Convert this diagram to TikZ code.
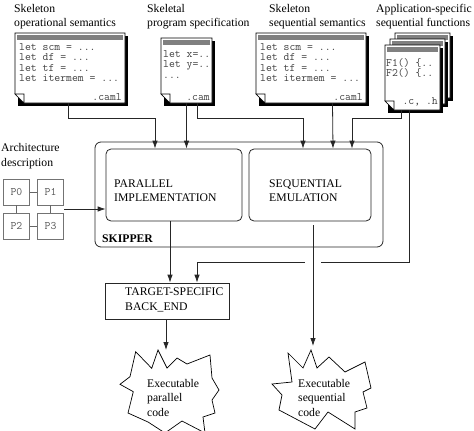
\documentclass[tikz,border=0pt]{standalone}
\usepackage{fontspec}
\setmainfont{Liberation Serif}
\usetikzlibrary{arrows.meta}
\tikzset{>={Latex[length=8pt,width=5.5pt]}}
\tikzset{
    conn/.style={->,line width=0.8pt,draw=black!85},
    blockbox/.style={draw=black!85,line width=0.8pt,rounded corners=5pt,inner sep=0pt},
    caption/.style={align=left,inner sep=0pt,font=\fontsize{11.7}{14.5}\selectfont},
    codetext/.style={align=left,inner sep=0pt,text=black!75,font=\ttfamily\fontsize{11.4}{10.6}\selectfont},
    procbox/.style={draw=black!55,line width=0.7pt,minimum size=26pt,inner sep=0pt,text=black!65,font=\ttfamily\fontsize{11.4}{12}\selectfont},
    cloudline/.style={draw=black,line width=0.7pt,fill=white}
}
% source file icon: name, left, top, right, bottom
\newcommand{\docpage}[5]{%
    \fill[black] (#2+2.5,#3+2.5) rectangle (#4+2.5,#5+2.5);
    \filldraw[fill=white,draw=black,line width=0.6pt] (#2,#3) -- (#4,#3) -- (#4,#5) -- (#2+9,#5) -- (#2,#5-9) -- cycle;
    \fill[black!50] (#2+2,#3+2) rectangle (#4-2,#3+7);
    \filldraw[fill=white,draw=black,line width=0.6pt] (#2,#5-9) -- (#2+9,#5-9) -- (#2+9,#5) -- cycle;
    \node[inner sep=0pt,minimum width={(#4-#2)*1pt},minimum height={(#5-#3)*1pt}] (#1) at ({(#2+#4)/2},{(#3+#5)/2}) {};
}

\begin{document}
\begin{tikzpicture}[x=1pt,y=-1pt]
    \useasboundingbox (0,0) rectangle (474,431);

    % source files
    \docpage{docopsem}{15}{33}{125}{103}
    \docpage{docspec}{161}{38}{212}{103}
    \docpage{docseqsem}{256}{33}{366}{103}
    \docpage{docfunc}{395}{33}{450}{98}
    \docpage{docfunb}{390}{39}{445}{104}
    \docpage{docfun}{385}{45}{440}{110}

    \node[codetext,anchor=north west] at (19,43) {let scm = ...\\let df = ...\\let tf = ...\\let itermem = ...};
    \node[codetext,anchor=east] at (122,97) {.caml};
    \node[codetext,anchor=north west] at (163,50) {let x=..\\let y=..\\...};
    \node[codetext,anchor=east] at (210,98) {.cam};
    \node[codetext,anchor=north west] at (260,43) {let scm = ...\\let df = ...\\let tf = ...\\let itermem = ...};
    \node[codetext,anchor=east] at (363,97) {.caml};
    \node[codetext,anchor=north west] at (386,58) {F1() \{..\\F2() \{..};
    \node[codetext,anchor=east] at (438,102) {.c, .h};

    \node[caption,anchor=west] (lblopsem) at (14,16.5) {Skeleton\\operational semantics};
    \node[caption,anchor=west] (lblspec) at (147,16.5) {Skeletal\\program specification};
    \node[caption,anchor=west] (lblseqsem) at (269,16.5) {Skeleton\\sequential semantics};
    \node[caption,anchor=west] (lblfun) at (376,16.5) {Application-specific\\sequential functions};

    % skipper
    \node[blockbox,rounded corners=6pt,minimum width=288pt,minimum height=105pt] (skipper) at (239,194.5) {};
    \node[inner sep=0pt,anchor=west,font=\bfseries\fontsize{11.7}{14}\selectfont] (lblskipper) at (102,239) {SKIPPER};
    \node[blockbox,minimum width=136pt,minimum height=72pt] (par) at (174,185) {};
    \node[caption,anchor=west] (partxt) at (114,190.5) {PARALLEL\\IMPLEMENTATION};
    \node[blockbox,minimum width=122pt,minimum height=72pt] (seq) at (310,185) {};
    \node[caption,anchor=west] (seqtxt) at (269,190.5) {SEQUENTIAL\\EMULATION};

    \node[draw=black!85,line width=0.8pt,minimum width=124pt,minimum height=36pt,inner sep=0pt] (backend) at (167,301) {};
    \node[caption,anchor=west] (backtxt) at (125,300) {TARGET-SPECIFIC\\BACK\_END};

    % architecture
    \node[caption,anchor=west] (lblarch) at (1,156) {Architecture\\description};
    \node[procbox] (p0) at (16.5,192) {P0};
    \node[procbox] (p1) at (50.5,192) {P1};
    \node[procbox] (p2) at (16.5,226) {P2};
    \node[procbox] (p3) at (50.5,226) {P3};
    \draw[draw=black!60,line width=0.7pt] (p0) -- (p1) (p0) -- (p2) (p1) -- (p3) (p2) -- (p3);
    \coordinate (archout) at (64,209);
    \draw[conn] (archout) -- (archout -| par.west);

    % inputs
    \draw[conn] ([xshift=-2pt]docopsem.south) -- ++(0,15) -| ([xshift=-19pt]par.north);
    \draw[conn] (docspec.south) -- ([xshift=12.5pt]par.north);
    \draw[conn] ([xshift=10.5pt]docspec.south) -- ++(0,15) -| ([xshift=-7pt]seq.north);
    \draw[conn] ([xshift=21.5pt]docseqsem.south) -- ([xshift=23pt]seq.north);
    \draw[conn] ([xshift=-11pt]docfun.south) -- ++(0,8) -| ([xshift=42pt]seq.north);
    \draw[conn] ([xshift=-3pt]docfun.south) -- ++(0,152) -| ([xshift=30pt]backend.north);
    \draw[conn] ([xshift=-4pt]par.south) -- ([xshift=3pt]backend.north);

    % outputs
    \draw[cloudline] (151.7,368.3) -- (135.7,351.7) -- (130,376.7) -- (120,384.3) -- (133.3,391.7) -- (128,413) -- (148,422) -- (165,433) -- (182,421) -- (205,433) -- (203,417) -- (215,413) -- (212,400) -- (219,390) -- (212,378) -- (210,355) -- (187,364) -- (177,358) -- (167,368) -- (158,350) -- cycle;
    \node[caption,anchor=west] (exepar) at (147,397.5) {Executable\\parallel\\code};
    \draw[cloudline] (303,368) -- (288,353) -- (292,382) -- (272,384) -- (282,395) -- (279,410) -- (315,429) -- (328,412) -- (355,429) -- (355,412) -- (367,408) -- (363,392) -- (371,388) -- (365,362) -- (345,372) -- (329,357) -- (317,368) -- (311,350) -- cycle;
    \node[caption,anchor=west] (exeseq) at (298,397.5) {Executable\\sequential\\code};
    \coordinate (exepartop) at (166,350);
    \coordinate (exeseqtop) at (313,346);
    \draw[conn] ([xshift=-1pt]backend.south) -- (exepartop);
    \fill[white] (305,258) rectangle (321,266);
    \draw[conn] ([xshift=3pt,yshift=-4pt]seq.south) -- (exeseqtop);
\end{tikzpicture}
\end{document}
